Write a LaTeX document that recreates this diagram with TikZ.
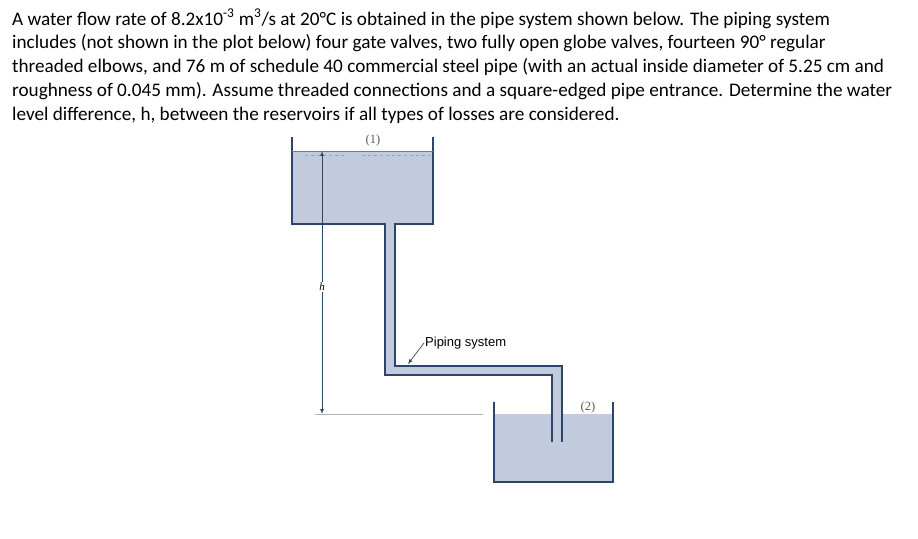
\documentclass[tikz,border=0pt]{standalone}
\usepackage{fontspec}
\setmainfont{Carlito}
\newfontfamily\hfont{Liberation Sans}
\newfontfamily\sfont{Liberation Serif}
\definecolor{wat}{HTML}{C2CADD}
\definecolor{wl}{HTML}{2E4468}
\begin{document}
\begin{tikzpicture}[x=1pt,y=-1pt,
  txt/.style={anchor=west,inner sep=0pt,font=\fontsize{19.2}{22}\selectfont},
  wall/.style={draw=wl,line width=1.4pt},
  water/.style={fill=wat}]
\useasboundingbox (0,0) rectangle (918,538);
\node[txt] (l1) at (12,19) {A water flow rate of 8.2x10\textsuperscript{-3} m\textsuperscript{3}/s at 20°C is obtained in the pipe system shown below. The piping system};
\node[txt] (l2) at (12,43) {includes (not shown in the plot below) four gate valves, two fully open globe valves, fourteen 90° regular};
\node[txt] (l3) at (12,67) {threaded elbows, and 76 m of schedule 40 commercial steel pipe (with an actual inside diameter of 5.25 cm and};
\node[txt] (l4) at (12,91) {roughness of 0.045 mm). Assume threaded connections and a square-edged pipe entrance. Determine the water};
\node[txt] (l5) at (12,115) {level difference, h, between the reservoirs if all types of losses are considered.};
\fill[water] (292,151) rectangle (433,224);
\fill[water] (385,224) -- (385,375) -- (552,375) -- (552,442) -- (562,442) -- (562,366) -- (395,366) -- (395,224) -- cycle;
\fill[water] (494,414) rectangle (613,482);
\draw[wall] (292,137) -- (292,224) -- (385,224) -- (385,375) -- (552,375) -- (552,442);
\draw[wall] (433,137) -- (433,224) -- (395,224) -- (395,366) -- (562,366) -- (562,442);
\draw[wall] (494,402) -- (494,482) -- (613,482) -- (613,402);
\draw[wl!70,line width=0.6pt] (292,151) -- (433,151);
\draw[wl!50,dashed,line width=0.6pt] (305,155) -- (345,155) (362,155) -- (430,155);
\draw[gray!60,line width=0.9pt] (315,414) -- (483,414);
\coordinate (ht) at (322,151);
\coordinate (hb) at (322,414);
\draw[wl,line width=0.7pt,<->,>=latex] (ht) -- (hb);
\node[fill=white,inner sep=1pt,font=\sfont\itshape\fontsize{11}{13}\selectfont] (h) at (322,287) {h};
\node[font=\sfont\fontsize{12.5}{14}\selectfont,text=gray!70!black] (n1) at (373,140) {(1)};
\node[font=\sfont\fontsize{12.5}{14}\selectfont,text=gray!70!black] (n2) at (588,407) {(2)};
\node[font=\hfont\fontsize{13}{15}\selectfont,anchor=west,inner sep=1pt] (ps) at (424,343) {Piping system};
\coordinate (pt) at (408,364);
\draw[wl,line width=0.7pt,->,>=latex] (ps.west) -- (pt);
\end{tikzpicture}
\end{document}
